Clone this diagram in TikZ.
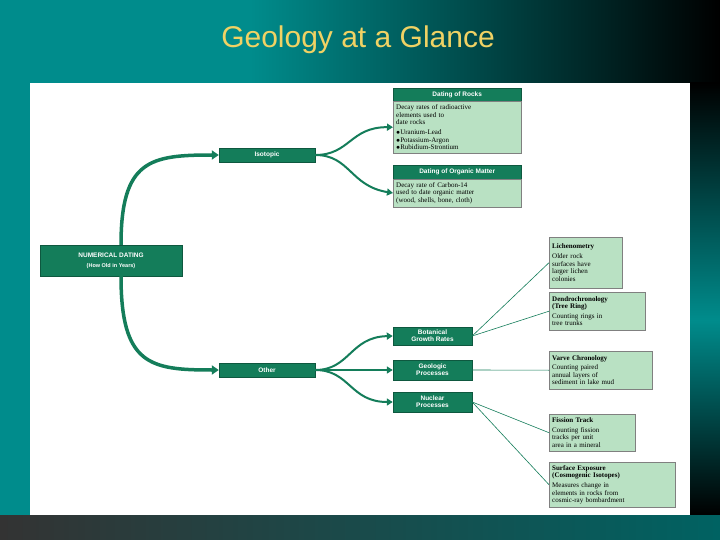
\documentclass[tikz,border=0pt]{standalone}
\usepackage{fontspec}
\setmainfont{Liberation Serif}
\setsansfont{Liberation Sans}
\usetikzlibrary{arrows.meta}
\definecolor{dg}{RGB}{20,125,90}
\definecolor{lg}{RGB}{185,225,195}
\definecolor{teal1}{RGB}{0,140,140}
\definecolor{ttl}{RGB}{240,210,100}
\tikzset{
 dbox/.style={draw=dg!70!black,fill=dg,text=white,font=\sffamily\bfseries\fontsize{6.5}{7}\selectfont,align=center,inner sep=1pt},
 lbox/.style={draw=gray,fill=lg,font=\fontsize{7}{7.6}\selectfont,align=left,anchor=north west,inner sep=3pt},
 thick arr/.style={draw=dg,line width=3.5pt,-{Triangle[length=7pt,width=9pt]}},
 mid arr/.style={draw=dg,line width=2pt,-{Triangle[length=6pt,width=7pt]}},
 thin/.style={draw=dg,line width=0.6pt}
}
\begin{document}
\begin{tikzpicture}[x=1pt,y=-1pt]
\useasboundingbox (0,0) rectangle (720,540);
\fill[teal1] (0,0) rectangle (720,540);
\shade[left color=teal1,right color=black] (250,0) rectangle (720,83);
\shade[top color=black,bottom color=teal1] (690,83) rectangle (720,320);
\shade[top color=teal1,bottom color=black] (690,320) rectangle (720,515);
\shade[left color=black!80,right color=teal1!70!black] (0,515) rectangle (720,540);
\fill[white] (30,83) rectangle (690,515);
\node[text=ttl,font=\sffamily\fontsize{30}{32}\selectfont] (title) at (358,40) {Geology at a Glance};
% main boxes
\node[dbox,minimum width=142,minimum height=31] (nd) at (111,260.5) {NUMERICAL DATING\\[3pt]{\fontsize{5.5}{6}\selectfont(How Old in Years)}};
\node[dbox,minimum width=96,minimum height=14] (iso) at (267,155) {Isotopic};
\node[dbox,minimum width=96,minimum height=14] (oth) at (267,370) {Other};
% dating of rocks
\node[dbox,minimum width=128,minimum height=13,anchor=north west] (rh) at (393,88) {Dating of Rocks};
\node[lbox,text width=122,minimum height=52,anchor=north west] (rb) at (393,101) {Decay rates of radioactive\\elements used to\\date rocks\\[2pt]$\bullet$Uranium-Lead\\$\bullet$Potassium-Argon\\$\bullet$Rubidium-Strontium};
\node[dbox,minimum width=128,minimum height=14,anchor=north west] (oh) at (393,165) {Dating of Organic Matter};
\node[lbox,text width=122,minimum height=27,anchor=north west] (ob) at (393,179) {Decay rate of Carbon-14\\used to date organic matter\\(wood, shells, bone, cloth)};
% other subtypes
\node[dbox,minimum width=79,minimum height=18] (bot) at (432.5,336) {Botanical\\Growth Rates};
\node[dbox,minimum width=79,minimum height=20] (geo) at (432.5,370) {Geologic\\Processes};
\node[dbox,minimum width=79,minimum height=20] (nuc) at (432.5,402) {Nuclear\\Processes};
% right boxes
\node[lbox,text width=67,minimum height=51] (lic) at (549,237) {\textbf{Lichenometry}\\[2pt]Older rock\\surfaces have\\larger lichen\\colonies};
\node[lbox,text width=90,minimum height=38] (den) at (549,292) {\textbf{Dendrochronology}\\\textbf{(Tree Ring)}\\[2pt]Counting rings in\\tree trunks};
\node[lbox,text width=97,minimum height=38] (var) at (549,351) {\textbf{Varve Chronology}\\[2pt]Counting paired\\annual layers of\\sediment in lake mud};
\node[lbox,text width=80,minimum height=37] (fis) at (549,414) {\textbf{Fission Track}\\[2pt]Counting fission\\tracks per unit\\area in a mineral};
\node[lbox,text width=120,minimum height=45] (sur) at (549,462) {\textbf{Surface Exposure}\\\textbf{(Cosmogenic Isotopes)}\\[2pt]Measures change in\\elements in rocks from\\cosmic-ray bombardment};
% thick connectors
\draw[thick arr] (nd.north) ++(10,0) .. controls (121,160) and (150,155) .. (iso.west);
\draw[thick arr] (nd.south) ++(10,0) .. controls (121,365) and (150,370) .. (oth.west);
\draw[mid arr] (iso.east) .. controls (350,155) and (350,127) .. (rb.west);
\draw[mid arr] (iso.east) .. controls (350,155) and (350,186) .. (ob.west);
\draw[mid arr] (oth.east) .. controls (350,370) and (350,337) .. (bot.west);
\draw[mid arr] (oth.east) -- (geo.west);
\draw[mid arr] (oth.east) .. controls (350,370) and (350,402) .. (nuc.west);
% thin connectors
\draw[thin] (bot.east) -- (lic.west);
\draw[thin] (bot.east) -- (den.west);
\draw[thin] (geo.east) -- (var.west);
\draw[thin] (nuc.east) -- (fis.west);
\draw[thin] (nuc.east) -- (sur.west);
\end{tikzpicture}
\end{document}
